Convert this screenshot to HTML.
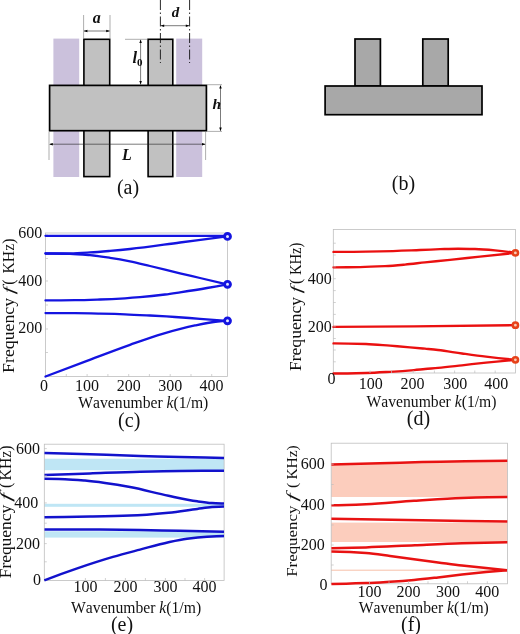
<!DOCTYPE html>
<html lang="en">
<head>
<meta charset="utf-8">
<title>Figure: phononic beam band structures</title>
<style>
html,body{margin:0;padding:0;background:#fff;}
body{width:520px;height:634px;overflow:hidden;}
svg{display:block;}
text{font-family:"Liberation Serif",serif;fill:#111;font-kerning:none;}
.tk text{font-size:16px;}
.ax{font-size:16px;}
.it{font-style:italic;}
.cap{font-size:20px;}
.bi text{font-size:14px;font-style:italic;font-weight:bold;}
.bi .sub{font-size:11px;font-style:normal;}
</style>
</head>
<body>
<svg width="520" height="634" viewBox="0 0 520 634">
<rect width="520" height="634" fill="#fff"/>
<g id="pa">
<rect x="53.4" y="38.6" width="25.8" height="138.4" fill="#cbc1dc"/>
<rect x="176.2" y="38.6" width="26" height="138.4" fill="#cbc1dc"/>
<rect x="83.9" y="39.3" width="25.8" height="137.3" fill="#c1c1c1" stroke="#000" stroke-width="1.6"/>
<rect x="148.1" y="39.3" width="24.7" height="137.3" fill="#c1c1c1" stroke="#000" stroke-width="1.6"/>
<rect x="49.6" y="85.4" width="156.8" height="45.3" fill="#c1c1c1" stroke="#000" stroke-width="1.7"/>
<g stroke="#777" stroke-width="0.6" fill="none">
<path d="M83.6 15V38.5M110 15V38.5"/>
<path d="M125 39.3H147.3"/>
<path d="M207.2 84.7H222M207.2 131.4H222"/>
<path d="M49 132V160M205.6 132V160"/>
</g>
<g stroke="#222" stroke-width="0.6" fill="none">
<path d="M84 31H109.6"/>
<path d="M140.6 40V84.5"/>
<path d="M220.5 86V130.5"/>
<path d="M50 144.2H205"/>
<path d="M161 25.7H189"/>
</g>
<path d="M160.4 0V63M189.6 0V63" stroke="#111" stroke-width="0.9" fill="none" stroke-dasharray="10 2.5 1.5 2.5"/>
<path fill="#000" d="M83.8 31l3.6 -1.26l0 2.52z M109.8 31l-3.6 -1.26l0 2.52z M140.6 39.5l-1.26 3.6l2.52 0z M140.6 84.6l-1.26 -3.6l2.52 0z M220.5 85l-1.26 3.6l2.52 0z M220.5 131.2l-1.26 -3.6l2.52 0z M49.2 144.2l3.6 -1.26l0 2.52z M205.6 144.2l-3.6 -1.26l0 2.52z M160.6 25.7l3.6 -1.26l0 2.52z M189.4 25.7l-3.6 -1.26l0 2.52z"/>
<g class="bi">
<text x="96.8" y="22.5" text-anchor="middle" style="font-size:16px">a</text>
<text x="175.5" y="17.3" text-anchor="middle" style="font-size:15px">d</text>
<text x="132.5" y="63" style="font-size:16.5px">l<tspan class="sub" dy="2.5">0</tspan></text>
<text x="216.7" y="108.9" text-anchor="middle" style="font-size:15.5px">h</text>
<text x="127" y="159.7" text-anchor="middle" style="font-size:16px">L</text>
</g>
<text class="cap" x="128" y="193.7" text-anchor="middle">(a)</text>
</g>
<g id="pb">
<rect x="355" y="39" width="25.4" height="47" fill="#a8a8a8" stroke="#000" stroke-width="1.7"/>
<rect x="422.8" y="39" width="25.4" height="47" fill="#a8a8a8" stroke="#000" stroke-width="1.7"/>
<rect x="325.1" y="86" width="156.9" height="28.7" fill="#a8a8a8" stroke="#000" stroke-width="1.7"/>
<text class="cap" x="403.5" y="189.8" text-anchor="middle">(b)</text>
</g>
<g id="pc">
<rect x="45.5" y="233" width="182.0" height="143.5" fill="none" stroke="#bebebe" stroke-width="0.8"/>
<path stroke="#bebebe" stroke-width="0.7" fill="none" d="M66.3 376.5v-2.5M87.1 376.5v-2.5M107.9 376.5v-2.5M128.7 376.5v-2.5M149.4 376.5v-2.5M170.2 376.5v-2.5M191.0 376.5v-2.5M211.7 376.5v-2.5M45.5 235.0h2.5M45.5 258.5h2.5M45.5 281.0h2.5M45.5 305.0h2.5M45.5 329.0h2.5M45.5 352.5h2.5"/>
<path d="M45.50 376.50 C59.33 371.22 73.17 365.99 87.00 360.80 C101.33 355.42 115.67 349.87 130.00 344.80 C140.83 340.97 151.67 336.98 162.50 333.80 C173.33 330.62 184.17 327.62 195.00 325.40 C202.50 323.86 210.00 322.24 217.50 321.50 C220.67 321.19 223.83 320.94 227.00 320.80" fill="none" stroke="#1414e0" stroke-width="2.3" stroke-linecap="round"/>
<path d="M45.50 313.10 C55.33 313.10 65.17 313.14 75.00 313.20 C83.33 313.25 91.67 313.43 100.00 313.60 C108.33 313.77 116.67 314.01 125.00 314.30 C133.33 314.59 141.67 315.06 150.00 315.50 C158.33 315.94 166.67 316.45 175.00 317.00 C183.33 317.55 191.67 318.19 200.00 318.80 C209.00 319.46 218.00 320.12 227.00 320.80" fill="none" stroke="#1414e0" stroke-width="2.3" stroke-linecap="round"/>
<path d="M45.50 300.40 C55.33 300.40 65.17 300.31 75.00 300.20 C83.33 300.11 91.67 299.79 100.00 299.50 C108.33 299.21 116.67 298.79 125.00 298.30 C130.00 298.00 135.00 297.63 140.00 297.20 C148.33 296.48 156.67 295.55 165.00 294.50 C170.00 293.87 175.00 293.06 180.00 292.30 C189.00 290.93 198.00 289.55 207.00 288.00 C213.67 286.85 220.33 285.61 227.00 284.30" fill="none" stroke="#1414e0" stroke-width="2.3" stroke-linecap="round"/>
<path d="M45.50 253.50 C53.67 253.50 61.83 253.63 70.00 253.80 C76.67 253.94 83.33 254.59 90.00 255.20 C96.67 255.81 103.33 256.81 110.00 257.80 C116.67 258.79 123.33 259.96 130.00 261.30 C136.67 262.64 143.33 264.41 150.00 266.00 C160.00 268.39 170.00 270.91 180.00 273.30 C186.67 274.89 193.33 276.44 200.00 278.00 C209.00 280.11 218.00 282.21 227.00 284.30" fill="none" stroke="#1414e0" stroke-width="2.3" stroke-linecap="round"/>
<path d="M45.50 253.50 C53.67 253.50 61.83 253.42 70.00 253.30 C76.67 253.21 83.33 252.78 90.00 252.40 C96.67 252.03 103.33 251.46 110.00 250.90 C116.67 250.34 123.33 249.72 130.00 249.00 C146.67 247.21 163.33 244.68 180.00 242.50 C195.67 240.45 211.33 238.38 227.00 236.30" fill="none" stroke="#1414e0" stroke-width="2.3" stroke-linecap="round"/>
<path d="M45.50 235.80 C106.00 235.80 166.50 235.80 227.00 235.80" fill="none" stroke="#1414e0" stroke-width="2.3" stroke-linecap="round"/>
<circle cx="227.5" cy="236.4" r="2.95" fill="#e4e8ff" stroke="#1414e0" stroke-width="2.9"/>
<circle cx="227.5" cy="284.3" r="2.95" fill="#e4e8ff" stroke="#1414e0" stroke-width="2.9"/>
<circle cx="227.5" cy="320.8" r="2.95" fill="#e4e8ff" stroke="#1414e0" stroke-width="2.9"/>
<g class="tk">
<text x="42.3" y="237.8" text-anchor="end">600</text>
<text x="42.3" y="286.1" text-anchor="end">400</text>
<text x="42.3" y="333.3" text-anchor="end">200</text>
<text x="44" y="390.9" text-anchor="middle">0</text>
<text x="87.1" y="390.9" text-anchor="middle">100</text>
<text x="128.7" y="390.9" text-anchor="middle">200</text>
<text x="170.2" y="390.9" text-anchor="middle">300</text>
<text x="211.4" y="390.9" text-anchor="middle">400</text>
</g>
<text class="ax" style="font-size:16px" transform="translate(13.6 372.9) rotate(-90)" textLength="75" lengthAdjust="spacingAndGlyphs">Frequency</text>
<text class="ax it" style="font-size:16px" transform="translate(13.6 294) rotate(-90) skewX(-9) scale(1.35 1)">f</text>
<text class="ax" style="font-size:16px" transform="translate(13.6 284.8) rotate(-90)">(</text>
<text class="ax" style="font-size:16px" transform="translate(13.6 273.6) rotate(-90)" textLength="35" lengthAdjust="spacingAndGlyphs">KHz)</text>
<text class="ax" x="78.30000000000001" y="407.8" textLength="130" lengthAdjust="spacingAndGlyphs">Wavenumber <tspan class="it">k</tspan>(1/m)</text>
<text class="cap" x="129.2" y="426.8" text-anchor="middle">(c)</text>
</g>
<g id="pd">
<rect x="333.3" y="229.4" width="182.3" height="143.6" fill="none" stroke="#bebebe" stroke-width="0.8"/>
<path d="M333.50 373.50 C344.33 373.50 355.17 373.26 366.00 373.00 C374.00 372.81 382.00 372.27 390.00 371.80 C398.00 371.33 406.00 370.78 414.00 370.10 C417.67 369.79 421.33 369.34 425.00 369.00 C429.33 368.60 433.67 368.31 438.00 367.90 C446.00 367.15 454.00 366.18 462.00 365.30 C470.00 364.42 478.00 363.43 486.00 362.60 C495.80 361.59 505.60 360.64 515.40 359.80" fill="none" stroke="#ea1010" stroke-width="2.35" stroke-linecap="round"/>
<path d="M333.50 343.40 C344.33 343.40 355.17 343.67 366.00 344.00 C374.00 344.24 382.00 345.10 390.00 345.70 C396.67 346.20 403.33 346.72 410.00 347.30 C415.00 347.73 420.00 348.22 425.00 348.70 C429.33 349.12 433.67 349.50 438.00 350.00 C446.00 350.93 454.00 352.39 462.00 353.50 C470.00 354.61 478.00 355.75 486.00 356.70 C495.80 357.86 505.60 358.92 515.40 359.80" fill="none" stroke="#ea1010" stroke-width="2.35" stroke-linecap="round"/>
<path d="M333.50 326.90 C360.33 326.74 387.17 326.54 414.00 326.30 C447.80 326.00 481.60 325.63 515.40 325.20" fill="none" stroke="#ea1010" stroke-width="2.35" stroke-linecap="round"/>
<path d="M333.50 267.30 C342.33 267.30 351.17 267.21 360.00 267.10 C368.33 267.00 376.67 266.62 385.00 266.20 C391.67 265.86 398.33 265.22 405.00 264.60 C411.67 263.98 418.33 263.11 425.00 262.40 C433.33 261.51 441.67 260.68 450.00 259.80 C460.00 258.75 470.00 257.66 480.00 256.60 C491.80 255.35 503.60 254.12 515.40 252.90" fill="none" stroke="#ea1010" stroke-width="2.35" stroke-linecap="round"/>
<path d="M333.50 251.90 C349.00 251.86 364.50 251.59 380.00 251.30 C393.33 251.05 406.67 250.48 420.00 250.00 C426.67 249.76 433.33 249.42 440.00 249.20 C446.00 249.00 452.00 248.70 458.00 248.70 C463.67 248.70 469.33 248.85 475.00 249.00 C481.67 249.18 488.33 249.73 495.00 250.30 C501.80 250.88 508.60 251.82 515.40 252.90" fill="none" stroke="#ea1010" stroke-width="2.35" stroke-linecap="round"/>
<circle cx="515.4" cy="252.9" r="2.65" fill="#f9cdb8" stroke="#e6421a" stroke-width="2.5"/>
<circle cx="515.4" cy="325.2" r="2.65" fill="#f9cdb8" stroke="#e6421a" stroke-width="2.5"/>
<circle cx="515.4" cy="359.8" r="2.65" fill="#f9cdb8" stroke="#e6421a" stroke-width="2.5"/>
<path stroke="#bebebe" stroke-width="0.7" fill="none" d="M370.0 373.0v-2.5M391.5 373.0v-2.5M413.2 373.0v-2.5M434.4 373.0v-2.5M454.6 373.0v-2.5M474.8 373.0v-2.5M495.2 373.0v-2.5M333.3 243.2h2.5M333.3 255.0h2.5M333.3 266.9h2.5M333.3 278.7h2.5M333.3 290.6h2.5M333.3 302.5h2.5M333.3 314.4h2.5M333.3 326.8h2.5M333.3 338.5h2.5M333.3 350.0h2.5M333.3 361.8h2.5"/>
<g class="tk">
<text x="331.8" y="284.4" text-anchor="end">400</text>
<text x="331.8" y="331.9" text-anchor="end">200</text>
<text x="331.4" y="383.8" text-anchor="middle">0</text>
<text x="370.8" y="388.6" text-anchor="middle">100</text>
<text x="412.6" y="388.6" text-anchor="middle">200</text>
<text x="455.3" y="388.6" text-anchor="middle">300</text>
<text x="496.2" y="388.6" text-anchor="middle">400</text>
</g>
<text class="ax" style="font-size:15.7px" transform="translate(301.1 371) rotate(-90)" textLength="74" lengthAdjust="spacingAndGlyphs">Frequency</text>
<text class="ax it" style="font-size:15.7px" transform="translate(301.1 292.9) rotate(-90) skewX(-9) scale(1.35 1)">f</text>
<text class="ax" style="font-size:15.7px" transform="translate(301.1 284) rotate(-90)">(</text>
<text class="ax" style="font-size:15.7px" transform="translate(301.1 275) rotate(-90)" textLength="32.5" lengthAdjust="spacingAndGlyphs">KHz)</text>
<text class="ax" x="366.5" y="407.3" textLength="130" lengthAdjust="spacingAndGlyphs">Wavenumber <tspan class="it">k</tspan>(1/m)</text>
<text class="cap" x="418.5" y="424.6" text-anchor="middle">(d)</text>
</g>
<g id="pe">
<rect x="44.3" y="458.7" width="179.8" height="11.5" fill="#bfe6f5"/>
<rect x="44.3" y="503.8" width="179.8" height="3.0" fill="#bfe6f5"/>
<rect x="44.3" y="531.3" width="179.8" height="6.3" fill="#bfe6f5"/>
<rect x="44.3" y="444.2" width="179.8" height="136.3" fill="none" stroke="#bebebe" stroke-width="0.8"/>
<path d="M44.30 580.30 C55.03 576.18 65.77 572.26 76.50 568.60 C88.67 564.45 100.83 560.45 113.00 556.90 C122.00 554.27 131.00 551.98 140.00 549.60 C149.50 547.08 159.00 544.26 168.50 542.20 C174.67 540.87 180.83 539.51 187.00 538.70 C193.67 537.82 200.33 537.08 207.00 536.70 C212.67 536.37 218.33 536.08 224.00 536.00" fill="none" stroke="#1212cc" stroke-width="2.5" stroke-linecap="butt"/>
<path d="M44.50 529.40 C63.00 529.40 81.50 529.50 100.00 529.60 C113.33 529.67 126.67 529.82 140.00 530.00 C153.33 530.18 166.67 530.53 180.00 530.80 C194.67 531.10 209.33 531.40 224.00 531.70" fill="none" stroke="#1212cc" stroke-width="2.5" stroke-linecap="butt"/>
<path d="M44.50 517.30 C59.67 517.14 74.83 516.89 90.00 516.60 C103.33 516.34 116.67 516.10 130.00 515.60 C142.83 515.12 155.67 513.95 168.50 512.70 C178.10 511.77 187.70 510.11 197.30 508.90 C202.20 508.28 207.10 507.40 212.00 507.10 C216.00 506.86 220.00 506.62 224.00 506.60" fill="none" stroke="#1212cc" stroke-width="2.5" stroke-linecap="butt"/>
<path d="M44.50 478.80 C51.33 478.80 58.17 478.99 65.00 479.20 C71.67 479.40 78.33 480.01 85.00 480.60 C91.67 481.19 98.33 482.08 105.00 483.00 C113.33 484.15 121.67 485.53 130.00 487.10 C142.83 489.51 155.67 493.15 168.50 495.80 C178.10 497.78 187.70 499.95 197.30 501.30 C202.20 501.99 207.10 502.70 212.00 503.00 C216.00 503.24 220.00 503.47 224.00 503.50" fill="none" stroke="#1212cc" stroke-width="2.5" stroke-linecap="butt"/>
<path d="M44.50 475.00 C59.67 474.46 74.83 473.92 90.00 473.40 C106.67 472.82 123.33 472.08 140.00 471.70 C153.33 471.40 166.67 471.10 180.00 471.00 C194.67 470.89 209.33 470.80 224.00 470.80" fill="none" stroke="#1212cc" stroke-width="2.5" stroke-linecap="butt"/>
<path d="M44.50 453.10 C59.67 453.40 74.83 453.77 90.00 454.20 C106.67 454.67 123.33 455.37 140.00 455.90 C153.33 456.32 166.67 456.80 180.00 457.10 C194.67 457.43 209.33 457.72 224.00 457.90" fill="none" stroke="#1212cc" stroke-width="2.5" stroke-linecap="butt"/>
<path stroke="#bebebe" stroke-width="0.7" fill="none" d="M85.4 580.5v-2.5M105.4 580.5v-2.5M125.4 580.5v-2.5M145.4 580.5v-2.5M165.4 580.5v-2.5M185.0 580.5v-2.5M204.6 580.5v-2.5M44.3 448.6h2.5M44.3 475.8h2.5M44.3 502.9h2.5M44.3 523.2h2.5M44.3 543.6h2.5M44.3 561.8h2.5"/>
<g class="tk">
<text x="40" y="453.9" text-anchor="end">600</text>
<text x="38.2" y="508.2" text-anchor="end">400</text>
<text x="40" y="548.9" text-anchor="end">200</text>
<text x="41" y="585.4" text-anchor="end">0</text>
<text x="85.4" y="592.4" text-anchor="middle">100</text>
<text x="125.4" y="592.4" text-anchor="middle">200</text>
<text x="165.4" y="592.4" text-anchor="middle">300</text>
<text x="204.6" y="592.4" text-anchor="middle">400</text>
</g>
<text class="ax" style="font-size:16px" transform="translate(11.1 578.3) rotate(-90)" textLength="73.5" lengthAdjust="spacingAndGlyphs">Frequency</text>
<text class="ax it" style="font-size:16px" transform="translate(11.1 501.2) rotate(-90) skewX(-13) scale(1.5 1)">f</text>
<text class="ax" style="font-size:16px" transform="translate(11.1 487.9) rotate(-90)">(</text>
<text class="ax" style="font-size:16px" transform="translate(11.1 480.5) rotate(-90)" textLength="35" lengthAdjust="spacingAndGlyphs">KHz)</text>
<text class="ax" x="71.1" y="613" textLength="130" lengthAdjust="spacingAndGlyphs">Wavenumber <tspan class="it">k</tspan>(1/m)</text>
<text class="cap" x="122" y="631" text-anchor="middle">(e)</text>
</g>
<g id="pf">
<path d="M331.40 464.40 C347.60 464.08 363.80 463.71 380.00 463.30 C394.00 462.95 408.00 462.44 422.00 462.10 C436.33 461.75 450.67 461.42 465.00 461.20 C479.10 460.99 493.20 460.80 507.30 460.70 L507.50 496.90 L331.20 496.90 Z" fill="#fccdbd"/>
<rect x="331.2" y="522.6" width="176.3" height="19.4" fill="#fccdbd"/>
<path d="M331.2 570.2H500" stroke="#f6b99e" stroke-width="0.9"/>
<rect x="331.2" y="443.2" width="176.3" height="140.59999999999997" fill="none" stroke="#bebebe" stroke-width="0.8"/>
<path d="M331.40 584.00 C342.93 583.92 354.47 583.52 366.00 583.10 C374.00 582.81 382.00 582.23 390.00 581.70 C398.00 581.18 406.00 580.60 414.00 579.90 C422.00 579.20 430.00 578.28 438.00 577.40 C446.00 576.52 454.00 575.48 462.00 574.60 C470.00 573.72 478.00 572.87 486.00 572.10 C493.00 571.42 500.00 570.79 507.00 570.20" fill="none" stroke="#e81212" stroke-width="2.5" stroke-linecap="butt"/>
<path d="M331.40 551.40 C337.60 551.50 343.80 551.73 350.00 552.00 C355.33 552.23 360.67 552.57 366.00 553.00 C374.00 553.65 382.00 554.95 390.00 556.00 C398.00 557.05 406.00 558.23 414.00 559.30 C422.00 560.37 430.00 561.37 438.00 562.40 C446.00 563.43 454.00 564.56 462.00 565.50 C470.00 566.44 478.00 567.27 486.00 568.10 C493.00 568.83 500.00 569.53 507.00 570.20" fill="none" stroke="#e81212" stroke-width="2.5" stroke-linecap="butt"/>
<path d="M331.40 548.20 C342.93 548.04 354.47 547.75 366.00 547.40 C382.33 546.91 398.67 545.89 415.00 545.20 C430.67 544.53 446.33 543.75 462.00 543.30 C477.10 542.87 492.20 542.50 507.30 542.30" fill="none" stroke="#e81212" stroke-width="2.5" stroke-linecap="butt"/>
<path d="M331.40 518.80 C361.60 519.25 391.80 519.72 422.00 520.20 C450.43 520.65 478.87 521.12 507.30 521.60" fill="none" stroke="#e81212" stroke-width="2.5" stroke-linecap="butt"/>
<path d="M331.40 505.20 C342.93 505.07 354.47 504.66 366.00 504.20 C382.00 503.56 398.00 501.82 414.00 500.80 C430.00 499.78 446.00 498.47 462.00 498.00 C477.10 497.55 492.20 497.12 507.30 497.10" fill="none" stroke="#e81212" stroke-width="2.5" stroke-linecap="butt"/>
<path d="M331.40 464.40 C347.60 464.08 363.80 463.71 380.00 463.30 C394.00 462.95 408.00 462.44 422.00 462.10 C436.33 461.75 450.67 461.42 465.00 461.20 C479.10 460.99 493.20 460.80 507.30 460.70" fill="none" stroke="#e81212" stroke-width="2.5" stroke-linecap="butt"/>
<path stroke="#bebebe" stroke-width="0.7" fill="none" d="M369.5 583.8v-2.5M389.0 583.8v-2.5M408.5 583.8v-2.5M428.0 583.8v-2.5M448.0 583.8v-2.5M467.5 583.8v-2.5M487.3 583.8v-2.5M331.2 464.2h2.5M331.2 484.5h2.5M331.2 504.6h2.5M331.2 525.0h2.5M331.2 545.0h2.5M331.2 565.0h2.5"/>
<g class="tk">
<text x="324.8" y="469.4" text-anchor="end">600</text>
<text x="324.8" y="509.7" text-anchor="end">400</text>
<text x="324.8" y="550.1" text-anchor="end">200</text>
<text x="327.6" y="589.8" text-anchor="end">0</text>
<text x="369.5" y="597" text-anchor="middle">100</text>
<text x="408.5" y="597" text-anchor="middle">200</text>
<text x="448" y="597" text-anchor="middle">300</text>
<text x="487.3" y="597" text-anchor="middle">400</text>
</g>
<text class="ax" style="font-size:15.5px" transform="translate(296.8 576.8) rotate(-90)" textLength="71.2" lengthAdjust="spacingAndGlyphs">Frequency</text>
<text class="ax it" style="font-size:15.5px" transform="translate(296.8 500.9) rotate(-90) skewX(-12) scale(1.45 1)">f</text>
<text class="ax" style="font-size:15.5px" transform="translate(296.8 487.9) rotate(-90)">(</text>
<text class="ax" style="font-size:15.5px" transform="translate(296.8 479.6) rotate(-90)" textLength="34.3" lengthAdjust="spacingAndGlyphs">KHz)</text>
<text class="ax" x="358.8" y="612.7" textLength="130" lengthAdjust="spacingAndGlyphs">Wavenumber <tspan class="it">k</tspan>(1/m)</text>
<text class="cap" x="411" y="631" text-anchor="middle">(f)</text>
</g>
</svg>
</body>
</html>
